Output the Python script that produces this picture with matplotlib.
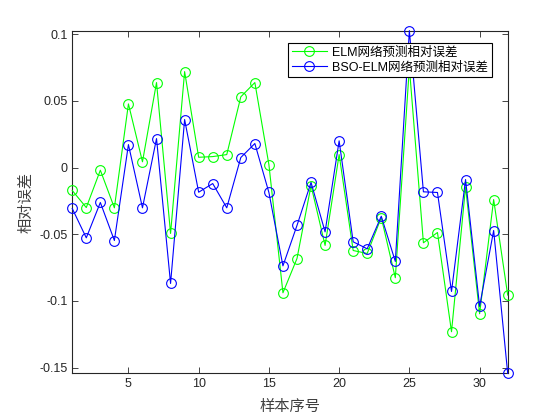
import matplotlib
matplotlib.use("Agg")
import matplotlib.pyplot as plt

plt.rcParams['font.family'] = ['Liberation Sans', 'Noto Sans CJK SC', 'DejaVu Sans']

sample_idx = list(range(1, 33))
elm_err = [-0.0172, -0.0300, -0.0020, -0.0302, 0.0477, 0.0043, 0.0637, -0.0494,
           0.0719, 0.0077, 0.0082, 0.0097, 0.0530, 0.0637, 0.0022, -0.0939,
           -0.0682, -0.0135, -0.0584, 0.0097, -0.0622, -0.0644, -0.0375, -0.0826,
           0.0750, -0.0564, -0.0487, -0.1231, -0.0145, -0.1096, -0.0240, -0.0956]
bso_elm_err = [-0.0307, -0.0527, -0.0262, -0.0547, 0.0172, -0.0302, 0.0217, -0.0869,
               0.0360, -0.0185, -0.0120, -0.0302, 0.0075, 0.0180, -0.0187, -0.0737,
               -0.0434, -0.0112, -0.0482, 0.0200, -0.0557, -0.0609, -0.0365, -0.0704,
               0.1026, -0.0182, -0.0187, -0.0929, -0.0090, -0.1041, -0.0472, -0.1543]
legend_labels = ['ELM网络预测相对误差', 'BSO-ELM网络预测相对误差']
xlabel_text = '样本序号'
ylabel_text = '相对误差'
xticks = [5, 10, 15, 20, 25, 30]
yticks = [-0.15, -0.1, -0.05, 0, 0.05, 0.1]
ytick_labels = ['-0.15', '-0.1', '-0.05', '0', '0.05', '0.1']

fig = plt.figure(figsize=(5.6, 4.2), dpi=100)
ax = fig.add_axes([0.129, 0.111, 0.7776, 0.816])

ax.plot(sample_idx, elm_err, '-o', color=(0, 1, 0), markerfacecolor='none',
        markersize=7, linewidth=0.8, markeredgewidth=0.8, label=legend_labels[0],
        clip_on=False, zorder=3)
ax.plot(sample_idx, bso_elm_err, '-o', color=(0, 0, 1), markerfacecolor='none',
        markersize=7, linewidth=0.8, markeredgewidth=0.8, label=legend_labels[1],
        clip_on=False, zorder=3)

ax.set_xlim(min(sample_idx), max(sample_idx))
ymin = min(min(elm_err), min(bso_elm_err))
ymax = max(max(elm_err), max(bso_elm_err))
ax.set_ylim(ymin, ymax)
ax.set_xticks(xticks)
ax.set_yticks(yticks)
ax.set_yticklabels(ytick_labels)

tc = (0.15, 0.15, 0.15)
ax.tick_params(direction='in', top=True, right=True, length=4, width=0.6,
               labelsize=9, colors=tc, labelcolor=tc)
for s in ax.spines.values():
    s.set_linewidth(0.8)
    s.set_color(tc)

ax.set_xlabel(xlabel_text, fontsize=11, color=(0.25, 0.25, 0.25), labelpad=7)
ax.set_ylabel(ylabel_text, fontsize=11, color=(0.25, 0.25, 0.25), labelpad=4)

leg = ax.legend(loc='upper right', bbox_to_anchor=(0.963, 0.965), fontsize=9,
                frameon=True, fancybox=False, edgecolor='black', framealpha=1,
                borderpad=0.3, labelspacing=0.2, handlelength=2.8, handletextpad=0.4,
                borderaxespad=0)
leg.get_frame().set_linewidth(0.8)
leg.set_zorder(5)

fig.savefig('out.png', dpi=100)
